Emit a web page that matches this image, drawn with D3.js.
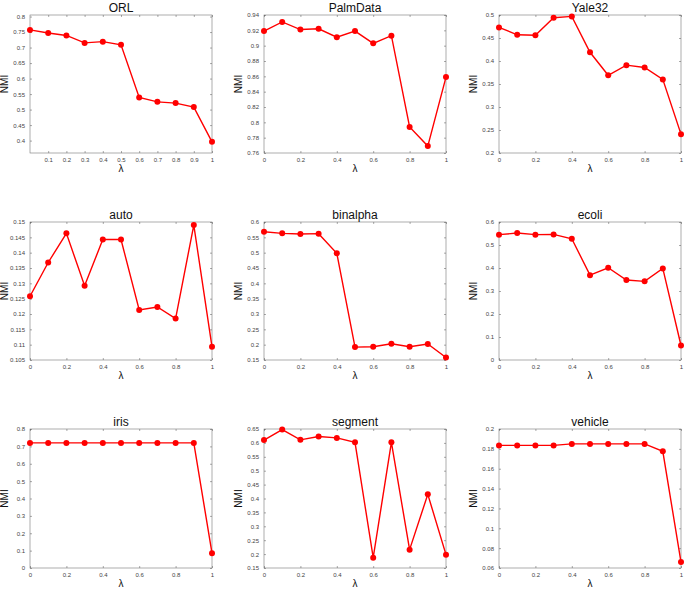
<!DOCTYPE html>
<html>
<head>
<meta charset="UTF-8">
<script src="https://cdnjs.cloudflare.com/ajax/libs/d3/7.9.0/d3.min.js"></script>
<style>
  body { margin: 0; background: #fff; }
  svg { font-family: "Liberation Sans", Arial, sans-serif; }
  .tick text { fill: #444; font-size: 6px; }
  .tick line, .domain { stroke: #555; }
</style>
</head>
<body>
<svg id="chart" width="685" height="591"></svg>
<script>
const lambdas = [0, 0.1, 0.2, 0.3, 0.4, 0.5, 0.6, 0.7, 0.8, 0.9, 1];
const titles = ["ORL", "PalmData", "Yale32", "auto", "binalpha", "ecoli", "iris", "segment", "vehicle"];
const orl = [0.757, 0.747, 0.739, 0.715, 0.719, 0.709, 0.539, 0.525, 0.521, 0.508, 0.396];
const palm = [0.919, 0.931, 0.921, 0.922, 0.911, 0.919, 0.903, 0.913, 0.794, 0.769, 0.859];
const yale = [0.473, 0.457, 0.456, 0.494, 0.497, 0.419, 0.369, 0.391, 0.386, 0.360, 0.241];
const auto = [0.1258, 0.1368, 0.1463, 0.1292, 0.1443, 0.1443, 0.1213, 0.1223, 0.1185, 0.1490, 0.1093];
const binalpha = [0.568, 0.563, 0.561, 0.562, 0.498, 0.192, 0.193, 0.203, 0.193, 0.202, 0.158];
const ecoli = [0.545, 0.552, 0.545, 0.546, 0.527, 0.369, 0.401, 0.348, 0.342, 0.398, 0.063];
const iris = [0.72, 0.72, 0.72, 0.72, 0.72, 0.72, 0.72, 0.72, 0.72, 0.72, 0.085];
const segment = [0.610, 0.648, 0.611, 0.623, 0.618, 0.602, 0.187, 0.602, 0.216, 0.415, 0.198];
const vehicle = [0.1835, 0.1835, 0.1835, 0.1835, 0.185, 0.185, 0.185, 0.185, 0.185, 0.1775, 0.066];
const series = [orl, palm, yale, auto, binalpha, ecoli, iris, segment, vehicle];
const yDomains = [[0.36, 0.805], [0.76, 0.94], [0.2, 0.5], [0.105, 0.15], [0.15, 0.6], [0, 0.6], [0, 0.8], [0.15, 0.65], [0.06, 0.2]];
const yTicks = [
  [0.4, 0.45, 0.5, 0.55, 0.6, 0.65, 0.7, 0.75, 0.8],
  [0.76, 0.78, 0.8, 0.82, 0.84, 0.86, 0.88, 0.9, 0.92, 0.94],
  [0.2, 0.25, 0.3, 0.35, 0.4, 0.45, 0.5],
  [0.105, 0.11, 0.115, 0.12, 0.125, 0.13, 0.135, 0.14, 0.145, 0.15],
  [0.15, 0.2, 0.25, 0.3, 0.35, 0.4, 0.45, 0.5, 0.55, 0.6],
  [0, 0.1, 0.2, 0.3, 0.4, 0.5, 0.6],
  [0, 0.1, 0.2, 0.3, 0.4, 0.5, 0.6, 0.7, 0.8],
  [0.15, 0.2, 0.25, 0.3, 0.35, 0.4, 0.45, 0.5, 0.55, 0.6, 0.65],
  [0.06, 0.08, 0.1, 0.12, 0.14, 0.16, 0.18, 0.2]
];
const xTicksOrl = [0.1, 0.2, 0.3, 0.4, 0.5, 0.6, 0.7, 0.8, 0.9, 1];
const xTicksStd = [0, 0.2, 0.4, 0.6, 0.8, 1];

// panel boxes: [left, top, bottom]
const colLeft = [30, 264, 499];
const rowTop = [15, 222, 429];
const rowBottom = [153, 360, 568];
const W = 182;

const svg = d3.select("#chart");
const fmt = v => String(+v.toFixed(3));

series.forEach((vals, i) => {
  const c = i % 3, r = Math.floor(i / 3);
  const L = colLeft[c], T = rowTop[r], B = rowBottom[r];
  const x = d3.scaleLinear().domain([0, 1]).range([L, L + W]);
  const y = d3.scaleLinear().domain(yDomains[i]).range([B, T]);
  const g = svg.append("g");
  const xt = i === 0 ? xTicksOrl : xTicksStd;

  g.append("rect").attr("x", L).attr("y", T).attr("width", W).attr("height", B - T)
    .attr("fill", "none").attr("stroke", "#777").attr("stroke-width", 0.6);

  g.append("g").attr("transform", `translate(0,${B})`)
    .call(d3.axisBottom(x).tickValues(xt).tickSize(-2).tickPadding(5).tickFormat(fmt))
    .call(a => a.select(".domain").remove());
  g.append("g").attr("transform", `translate(0,${T})`)
    .call(d3.axisTop(x).tickValues(xt).tickSize(-2).tickFormat(""))
    .call(a => a.select(".domain").remove());
  g.append("g").attr("transform", `translate(${L},0)`)
    .call(d3.axisLeft(y).tickValues(yTicks[i]).tickSize(-2).tickPadding(5).tickFormat(fmt))
    .call(a => a.select(".domain").remove());
  g.append("g").attr("transform", `translate(${L + W},0)`)
    .call(d3.axisRight(y).tickValues(yTicks[i]).tickSize(-2).tickFormat(""))
    .call(a => a.select(".domain").remove());
  g.selectAll(".tick line").attr("stroke", "#555").attr("stroke-width", 0.5);

  const line = d3.line().x((d, j) => x(lambdas[j])).y(d => y(d));
  g.append("path").datum(vals).attr("d", line)
    .attr("fill", "none").attr("stroke", "#f00").attr("stroke-width", 1.4);
  g.selectAll("circle").data(vals).join("circle")
    .attr("cx", (d, j) => x(lambdas[j])).attr("cy", d => y(d)).attr("r", 3).attr("fill", "#f00");

  g.append("text").attr("x", L + W / 2).attr("y", T - 3).attr("text-anchor", "middle")
    .attr("font-size", 12).attr("fill", "#111").text(titles[i]);
  g.append("text").attr("x", L + W / 2).attr("y", B + 19).attr("text-anchor", "middle")
    .attr("font-size", 10).attr("fill", "#111").text("λ");
  const yl = L - 22;
  g.append("text").attr("transform", `translate(${yl},${(T + B) / 2}) rotate(-90)`)
    .attr("text-anchor", "middle").attr("font-size", 10).attr("fill", "#111").text("NMI");
});
</script>
</body>
</html>
